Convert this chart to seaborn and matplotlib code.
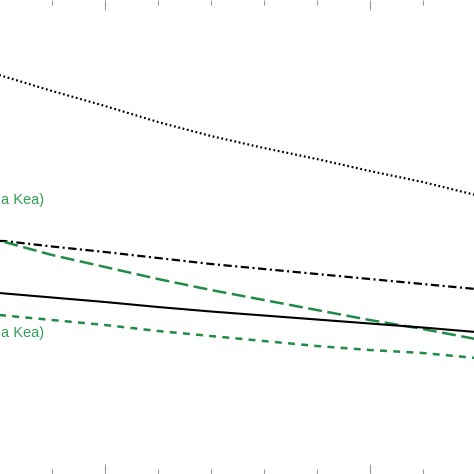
import numpy as np
import matplotlib
matplotlib.use("Agg")
import matplotlib.pyplot as plt
from matplotlib.ticker import MultipleLocator
import seaborn as sns

# values (x in axis units, y in arbitrary units)
x_main = [8.0, 9.0, 10.0, 11.0, 12.0, 13.0, 14.0, 15.0, 16.0, 17.0]
x_dashdot = [8.0, 8.1, 9.0, 10.0, 11.0, 12.0, 13.0, 14.0, 15.0, 16.0, 17.0]
x_longdash = [8.1, 9.0, 10.0, 11.0, 12.0, 13.0, 14.0, 15.0, 16.0, 17.0]

y_dotted = [3.99, 3.83, 3.68, 3.52, 3.38, 3.26, 3.15, 3.03, 2.92, 2.79]
y_dashdot = [2.33, 2.33, 2.275, 2.22, 2.16, 2.10, 2.05, 2.00, 1.95, 1.90, 1.85]
y_longdash = [2.32, 2.19, 2.07, 1.95, 1.84, 1.74, 1.64, 1.54, 1.45, 1.35]
y_solid = [1.81, 1.765, 1.72, 1.67, 1.625, 1.585, 1.545, 1.505, 1.465, 1.42]
y_shortdash = [1.59, 1.54, 1.49, 1.43, 1.38, 1.33, 1.28, 1.24, 1.21, 1.16]

labels = ["a Kea)", "a Kea)"]
label_y = [2.74, 1.41]

green = "#1f8c45"
green_txt = "#35a057"

sns.set_style("white")
plt.rcParams["font.family"] = ["Liberation Sans", "DejaVu Sans"]
plt.rcParams["lines.scale_dashes"] = False

fig = plt.figure(figsize=(4.74, 4.74), dpi=100)
ax = fig.add_axes([0, 0, 1, 1])

sns.lineplot(x=x_main, y=y_dotted, ax=ax, color="black", lw=1.6,
             linestyle=(0, (1.3, 1.9)))
sns.lineplot(x=x_dashdot, y=y_dashdot, ax=ax, color="black", lw=1.6,
             linestyle=(0, (6, 2.5, 1.5, 2.5)))
sns.lineplot(x=x_longdash, y=y_longdash, ax=ax, color=green, lw=1.8,
             linestyle=(0, (10, 4)))
sns.lineplot(x=x_main, y=y_solid, ax=ax, color="black", lw=1.5)
sns.lineplot(x=x_main, y=y_shortdash, ax=ax, color=green, lw=1.8,
             linestyle=(0, (5, 4.5)))

for lab, yy in zip(labels, label_y):
    ax.text(8.03, yy, lab, color=green_txt, fontsize=10.5, ha="left",
            va="center")

ax.set_xlim(8.017, 16.969)
ax.set_ylim(0, 4.74)
ax.xaxis.set_major_locator(MultipleLocator(5))
ax.xaxis.set_minor_locator(MultipleLocator(1))
ax.tick_params(axis="x", which="both", direction="in", top=True, bottom=True,
               labelbottom=False, colors="#9a9a9a", width=0.8)
ax.tick_params(axis="x", which="major", length=7.2)
ax.tick_params(axis="x", which="minor", length=3.6)
ax.set_yticks([])
ax.set_xlabel("")
ax.set_ylabel("")
for s in ax.spines.values():
    s.set_visible(False)

fig.savefig("out.png", dpi=100)
